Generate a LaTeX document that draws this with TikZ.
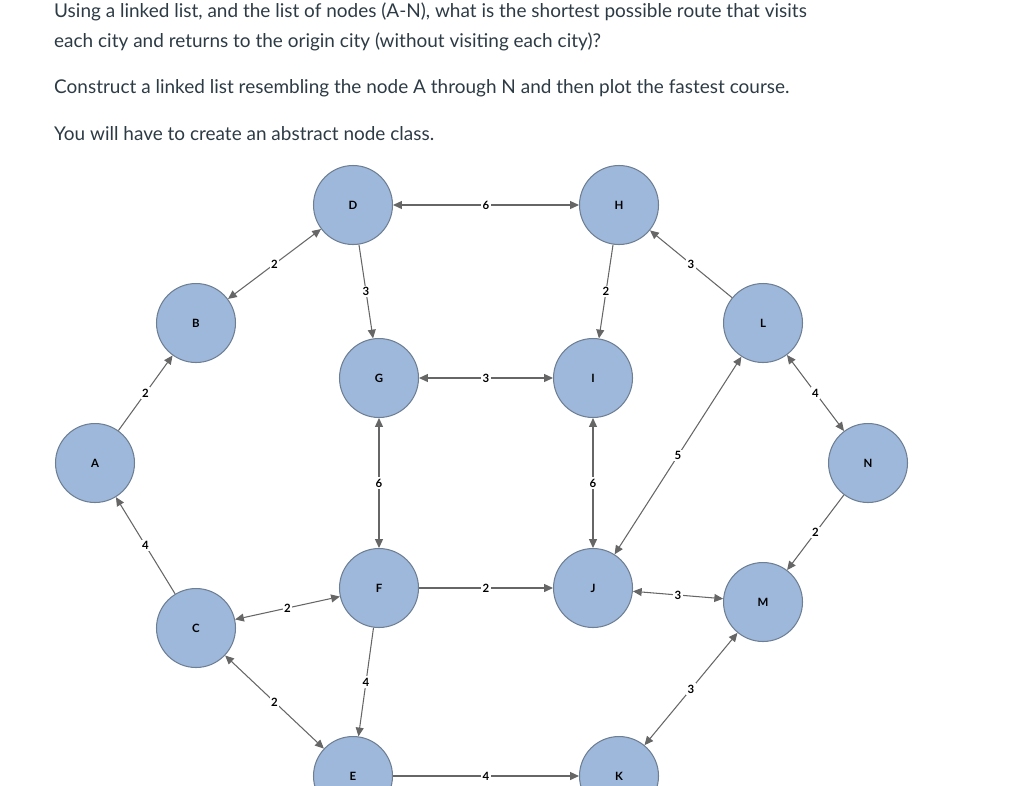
\documentclass[tikz,border=0pt]{standalone}
\usepackage{fontspec}
\setmainfont{Lato}
\usetikzlibrary{arrows.meta}
\definecolor{txt}{HTML}{2D3B45}
\definecolor{cfill}{HTML}{9DB8DA}
\definecolor{cdraw}{HTML}{6E7F94}
\begin{document}
\begin{tikzpicture}[x=0.02cm,y=-0.02cm,
  city/.style={circle,minimum size=1.58cm,inner sep=0pt,fill=cfill,draw=cdraw,line width=0.6pt,font=\fontsize{6.5}{7}\selectfont\bfseries},
  edge/.style={draw=black!60,line width=0.6pt,{Triangle[length=5pt,width=4.5pt]}-{Triangle[length=5pt,width=4.5pt]}},
  one/.style={draw=black!60,line width=0.6pt,-{Triangle[length=5pt,width=4.5pt]}},
  lab/.style={fill=white,inner sep=0.8pt,font=\fontsize{6.5}{7}\selectfont\bfseries}]
\useasboundingbox (0,0) rectangle (1024,785);
\clip (0,0) rectangle (1024,785);
\begin{scope}[every node/.style={anchor=west,text=txt,font=\fontsize{10.8}{13}\selectfont}]
\node at (48,12) {Using a linked list, and the list of nodes (A-N), what is the shortest possible route that visits};
\node at (48,42) {each city and returns to the origin city (without visiting each city)?};
\node at (48,88) {Construct a linked list resembling the node A through N and then plot the fastest course.};
\node at (48,134) {You will have to create an abstract node class.};
\end{scope}
\node[city] (A) at (95,463) {A};
\node[city] (B) at (196,323) {B};
\node[city] (C) at (196,628) {C};
\node[city] (D) at (353,205) {D};
\node[city] (H) at (619,205) {H};
\node[city] (G) at (379,378) {G};
\node[city] (I) at (593,378) {I};
\node[city] (F) at (379,588) {F};
\node[city] (J) at (593,588) {J};
\node[city] (E) at (353,776) {E};
\node[city] (K) at (619,776) {K};
\node[city] (L) at (763,323) {L};
\node[city] (M) at (763,602) {M};
\node[city] (N) at (868,463) {N};
\draw[one] (A) -- node[lab]{2} (B);
\draw[one] (C) -- node[lab]{4} (A);
\draw[edge] (B) -- node[lab]{2} (D);
\draw[edge] (D) -- node[lab]{6} (H);
\draw[one] (D) -- node[lab]{3} (G);
\draw[one] (H) -- node[lab]{2} (I);
\draw[one] (L) -- node[lab]{3} (H);
\draw[edge] (L) -- node[lab]{4} (N);
\draw[one] (N) -- node[lab]{2} (M);
\draw[edge] (G) -- node[lab]{3} (I);
\draw[edge] (G) -- node[lab]{6} (F);
\draw[edge] (I) -- node[lab]{6} (J);
\draw[one] (F) -- node[lab]{2} (J);
\draw[edge] (C) -- node[lab]{2} (F);
\draw[edge] (C) -- node[lab]{2} (E);
\draw[one] (F) -- node[lab]{4} (E);
\draw[one] (E) -- node[lab]{4} (K);
\draw[edge] (K) -- node[lab]{3} (M);
\draw[edge] (J) -- node[lab]{3} (M);
\draw[edge] (J) -- node[lab]{5} (L);
\end{tikzpicture}
\end{document}
